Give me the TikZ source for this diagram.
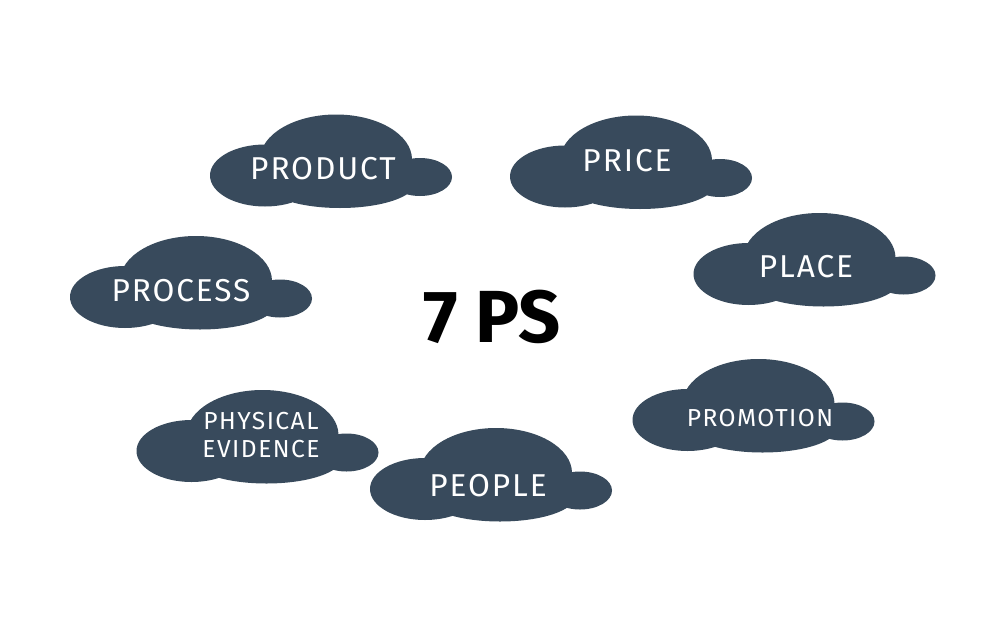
\documentclass[tikz,border=0pt]{standalone}
\usepackage{fontspec}
\setmainfont{Fira Sans}
\newfontfamily\handfont[LetterSpace=6]{Fira Sans}
\usetikzlibrary{positioning}
\definecolor{cloudgray}{RGB}{56,74,92}

\begin{document}
\begin{tikzpicture}[x=.02cm,y=-.02cm,
    cloud/.pic={
      \fill[cloudgray] (-66,14) ellipse [x radius=55,y radius=31]
        (5,-2) ellipse [x radius=76,y radius=45]
        (89,15.5) ellipse [x radius=32,y radius=19]
        (9,21.5) ellipse [x radius=75,y radius=25];
    },
    word/.style={text=white,inner sep=0pt,align=center,font=\handfont\fontsize{18}{21}\selectfont},
    small word/.style={word,font=\handfont\fontsize{14}{16}\selectfont}]
  \fill[white] (0,0) rectangle (1000,632);
  \useasboundingbox (0,0) rectangle (1000,632);
  % clouds
  \foreach \x/\y in {331/161.5,631/162.5,191/283,257.5/437,491/475,753.5/406,814.5/260}
    \pic at (\x,\y) {cloud};
  % labels
  \node[word] (product) at (323,169) {PRODUCT};
  \node[word] (price) at (627,161) {PRICE};
  \node[word] (place) at (806,267) {PLACE};
  \node[small word] (promotion) at (760,418) {PROMOTION};
  \node[word] (people) at (488,486) {PEOPLE};
  \node[small word] (evidence) at (261,435) {PHYSICAL\\EVIDENCE};
  \node[word] (process) at (181,291) {PROCESS};
  \node[inner sep=0pt,font=\bfseries\fontsize{42}{46}\selectfont] (title) at (492,317) {7 PS};
\end{tikzpicture}
\end{document}
